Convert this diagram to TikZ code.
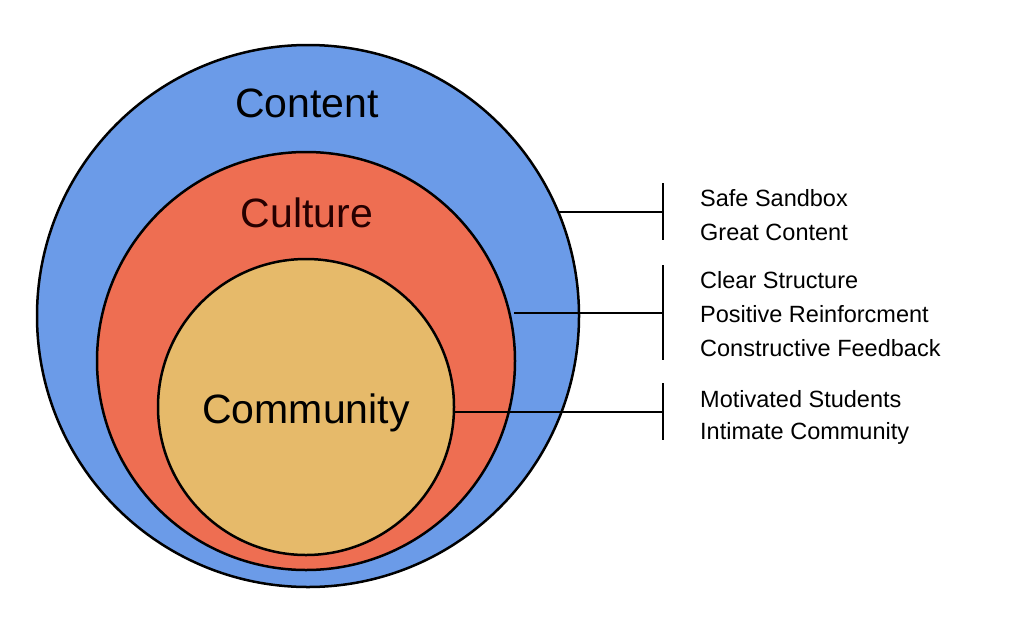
\documentclass[tikz,border=0pt]{standalone}
\usepackage{fontspec}
\setmainfont{Liberation Sans}
\definecolor{cblue}{HTML}{6B9BE8}
\definecolor{cred}{HTML}{EE6E52}
\definecolor{cyel}{HTML}{E6BA6A}
\begin{document}
\begin{tikzpicture}[x=1pt,y=-1pt,
  ring/.style={circle,draw=black,line width=2.5pt,inner sep=0pt},
  lbl/.style={anchor=west,font=\fontsize{23.5}{26}\selectfont,inner sep=0pt},
  big/.style={font=\fontsize{41}{46}\selectfont,inner sep=0pt},
  bar/.style={line width=2.3pt}]
\useasboundingbox (0,0) rectangle (1024,624);
\node[ring,fill=cblue,minimum size=542pt] (outer) at (308,316) {};
\node[ring,fill=cred,minimum size=418pt] (mid) at (306,361) {};
\node[ring,fill=cyel,minimum size=296pt] (inner) at (306,407) {};
\node[big] (t1) at (307,103) {Content};
\node[big,text=black!85!red] (t2) at (307,213) {Culture};
\node[big] (t3) at (306,413) {Community};
\coordinate (b1t) at (663,183); \coordinate (b1b) at (663,240); \coordinate (b1m) at (663,212);
\coordinate (b2t) at (663,265); \coordinate (b2b) at (663,360); \coordinate (b2m) at (663,313);
\coordinate (b3t) at (663,383); \coordinate (b3b) at (663,440); \coordinate (b3m) at (663,412);
\coordinate (s1) at (558,212); \coordinate (s2) at (514,313); \coordinate (s3) at (454,412);
\draw[bar] (s1) -- (b1m); \draw[bar] (b1t) -- (b1b);
\draw[bar] (s2) -- (b2m); \draw[bar] (b2t) -- (b2b);
\draw[bar] (s3) -- (b3m); \draw[bar] (b3t) -- (b3b);
\node[lbl] (l1) at (700,198) {Safe Sandbox};
\node[lbl] (l2) at (700,232) {Great Content};
\node[lbl] (l3) at (700,280) {Clear Structure};
\node[lbl] (l4) at (700,314) {Positive Reinforcment};
\node[lbl] (l5) at (700,348) {Constructive Feedback};
\node[lbl] (l6) at (700,399) {Motivated Students};
\node[lbl] (l7) at (700,433) {Intimate Community};
\end{tikzpicture}
\end{document}
